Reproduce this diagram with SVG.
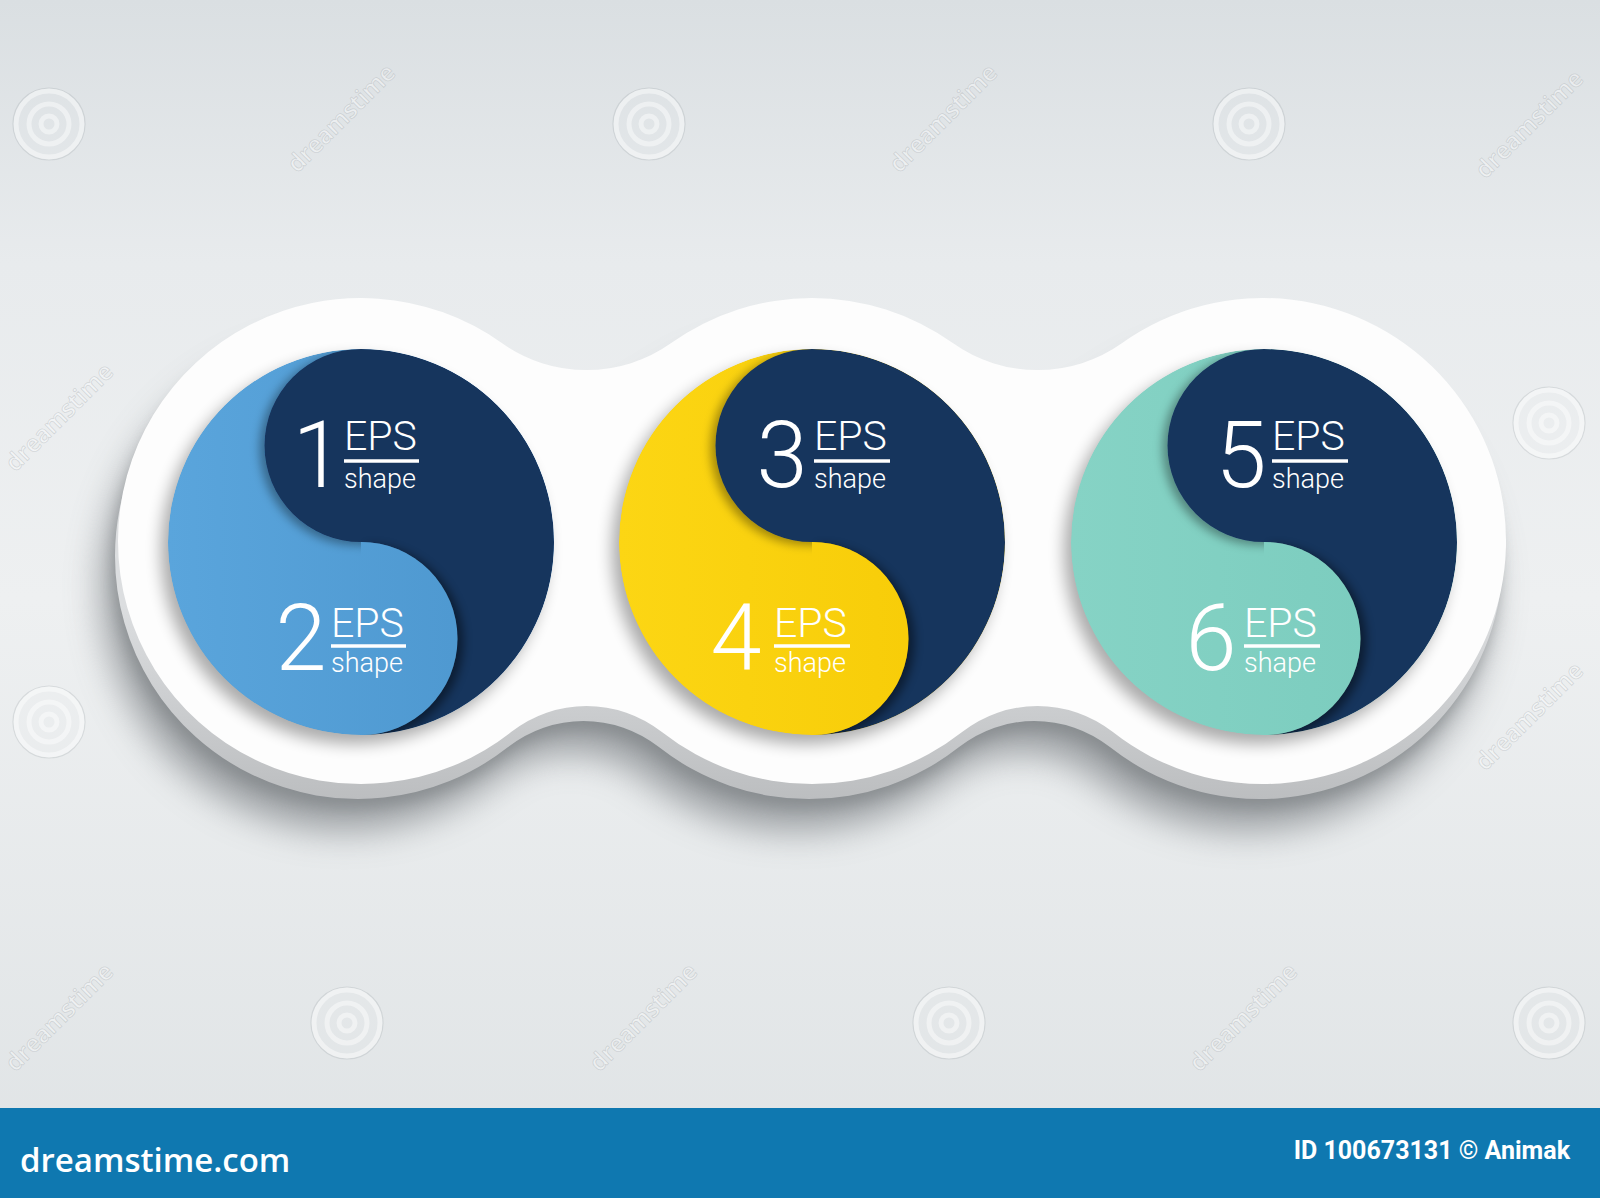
<svg xmlns="http://www.w3.org/2000/svg" xmlns:xlink="http://www.w3.org/1999/xlink" width="1600" height="1198" viewBox="0 0 1600 1198">
<style>
.num{font-family:Roboto,"Liberation Sans",sans-serif;font-weight:300;font-size:92px;fill:#ffffff;text-anchor:middle}
.eps{font-family:Roboto,"Liberation Sans",sans-serif;font-weight:300;font-size:41px;fill:#ffffff}
.shp{font-family:Roboto,"Liberation Sans",sans-serif;font-weight:300;font-size:27px;fill:#ffffff}
.ul{stroke:#ffffff;stroke-width:3.5}
.dark{fill:#18345d}
.wm{font-family:"Open Sans","DejaVu Sans",sans-serif;font-size:24px;font-weight:600;fill:#ffffff;fill-opacity:.4;stroke:#8f969b;stroke-opacity:.3;stroke-width:.8}
.sp{fill:none;stroke:#ffffff;stroke-opacity:.45;stroke-width:5}
.sp2{fill:none;stroke:#8f969b;stroke-opacity:.22;stroke-width:1.2}
</style>
<defs>
<linearGradient id="bg" x1="0" y1="0" x2="0" y2="1">
<stop offset="0" stop-color="#dadfe2"/>
<stop offset="0.22" stop-color="#e8ebed"/>
<stop offset="0.5" stop-color="#eef0f1"/>
<stop offset="1" stop-color="#dfe3e5"/>
</linearGradient>
<linearGradient id="gBlue" gradientUnits="userSpaceOnUse" x1="-193" y1="0" x2="193" y2="0">
<stop offset="0" stop-color="#5aa5dc"/><stop offset="1" stop-color="#4b95cd"/>
</linearGradient>
<linearGradient id="gYel" gradientUnits="userSpaceOnUse" x1="-193" y1="0" x2="193" y2="0">
<stop offset="0" stop-color="#fcd614"/><stop offset="1" stop-color="#f6ca05"/>
</linearGradient>
<linearGradient id="gTeal" gradientUnits="userSpaceOnUse" x1="-193" y1="0" x2="193" y2="0">
<stop offset="0" stop-color="#86d3c5"/><stop offset="1" stop-color="#79cbbd"/>
</linearGradient>
<linearGradient id="gEdge" x1="0" y1="0" x2="0" y2="1">
<stop offset="0.6" stop-color="#dcdee0"/><stop offset="1" stop-color="#bcbec0"/>
</linearGradient>
<filter id="blurBig" x="-20%" y="-30%" width="140%" height="160%"><feGaussianBlur stdDeviation="18"/></filter>
<filter id="blurMid" x="-20%" y="-30%" width="140%" height="160%"><feGaussianBlur stdDeviation="7"/></filter>
<filter id="circSh" x="-30%" y="-30%" width="160%" height="160%"><feGaussianBlur stdDeviation="8"/></filter>
<filter id="blurS" x="-40%" y="-40%" width="180%" height="180%"><feGaussianBlur stdDeviation="5"/></filter>
<filter id="shL" x="-30%" y="-30%" width="160%" height="160%"><feDropShadow dx="-5" dy="3" stdDeviation="5" flood-color="#000" flood-opacity=".35"/></filter>
<clipPath id="cc" clipPathUnits="userSpaceOnUse"><circle cx="0" cy="0" r="193"/></clipPath>
<clipPath id="rh" clipPathUnits="userSpaceOnUse"><rect x="0" y="-10" width="200" height="210"/></clipPath>
<path id="band" d="M118,541 A243,243 0 0 1 501.8,343 A146.1,146.1 0 0 0 671.2,343 A243,243 0 0 1 952.8,343 A146.1,146.1 0 0 0 1122.2,343 A243,243 0 1 1 1112.9,732.1 A122,122 0 0 0 962.1,732.1 A243,243 0 0 1 661.9,732.1 A122,122 0 0 0 511.1,732.1 A243,243 0 0 1 118,541 Z"/>
<path id="darkP" d="M0,-193 A193,193 0 0 1 0,193 A96.5,96.5 0 0 0 0,0 A96.5,96.5 0 0 1 0,-193 Z"/>
<path id="lobeP" d="M0,0 A96.5,96.5 0 0 1 0,193 Z"/>
<g id="lobeShadow" clip-path="url(#rh)">
<use xlink:href="#lobeP" fill="#000" opacity=".45" transform="translate(6,3)" filter="url(#blurS)"/>
</g>
<g id="spiral">
<circle class="sp2" r="36"/><circle class="sp" r="33"/><circle class="sp" r="20"/><circle class="sp" r="8"/>
</g>
</defs>

<rect width="1600" height="1198" fill="url(#bg)"/>

<g id="watermarks">
<use xlink:href="#spiral" x="49" y="124"/><use xlink:href="#spiral" x="649" y="124"/><use xlink:href="#spiral" x="1249" y="124"/>
<use xlink:href="#spiral" x="347" y="1023"/><use xlink:href="#spiral" x="949" y="1023"/><use xlink:href="#spiral" x="1549" y="1023"/>
<use xlink:href="#spiral" x="49" y="722"/><use xlink:href="#spiral" x="1549" y="423"/>
<text class="wm" transform="translate(347,124) rotate(-45)" text-anchor="middle">dreamstime</text>
<text class="wm" transform="translate(949,124) rotate(-45)" text-anchor="middle">dreamstime</text>
<text class="wm" transform="translate(1535,130) rotate(-45)" text-anchor="middle">dreamstime</text>
<text class="wm" transform="translate(65,423) rotate(-45)" text-anchor="middle">dreamstime</text>
<text class="wm" transform="translate(649,1023) rotate(-45)" text-anchor="middle">dreamstime</text>
<text class="wm" transform="translate(65,1023) rotate(-45)" text-anchor="middle">dreamstime</text>
<text class="wm" transform="translate(1249,1023) rotate(-45)" text-anchor="middle">dreamstime</text>
<text class="wm" transform="translate(1535,722) rotate(-45)" text-anchor="middle">dreamstime</text>
</g>

<g id="base">
<use xlink:href="#band" transform="translate(-16,46)" fill="#777c80" opacity=".7" filter="url(#blurBig)"/>
<use xlink:href="#band" transform="translate(-6,24)" fill="#6f7477" opacity=".4" filter="url(#blurMid)"/>
<use xlink:href="#band" transform="translate(-3,15)" fill="url(#gEdge)"/>
<use xlink:href="#band" fill="#fdfdfd"/>
</g>

<g id="connectors"></g>

<g id="circle-1" transform="translate(361,542)">
<circle r="193" fill="#000" opacity=".32" transform="translate(-7,9)" filter="url(#circSh)"/>
<g clip-path="url(#cc)">
<circle r="193" fill="url(#gBlue)"/>
<use xlink:href="#darkP" class="dark" filter="url(#shL)"/>
<use xlink:href="#lobeShadow"/>
<use xlink:href="#lobeP" fill="url(#gBlue)"/>
</g>
<g id="step-1">
<text class="num" x="-43" y="-55">1</text>
<text class="eps" x="-17" y="-92">EPS</text>
<line class="ul" x1="-17" y1="-81" x2="58" y2="-81"/>
<text class="shp" x="-17" y="-54">shape</text>
</g>
<g id="step-2">
<text class="num" x="-60" y="128">2</text>
<text class="eps" x="-30" y="95">EPS</text>
<line class="ul" x1="-30" y1="104" x2="45" y2="104"/>
<text class="shp" x="-30" y="130">shape</text>
</g>
</g>

<g id="circle-2" transform="translate(812,542)">
<circle r="193" fill="#000" opacity=".32" transform="translate(-7,9)" filter="url(#circSh)"/>
<g clip-path="url(#cc)">
<circle r="193" fill="url(#gYel)"/>
<use xlink:href="#darkP" class="dark" filter="url(#shL)"/>
<use xlink:href="#lobeShadow"/>
<use xlink:href="#lobeP" fill="url(#gYel)"/>
</g>
<g id="step-3">
<text class="num" x="-30" y="-55">3</text>
<text class="eps" x="2" y="-92">EPS</text>
<line class="ul" x1="2" y1="-81" x2="78" y2="-81"/>
<text class="shp" x="2" y="-54">shape</text>
</g>
<g id="step-4">
<text class="num" x="-76" y="128">4</text>
<text class="eps" x="-38" y="95">EPS</text>
<line class="ul" x1="-38" y1="104" x2="38" y2="104"/>
<text class="shp" x="-38" y="130">shape</text>
</g>
</g>

<g id="circle-3" transform="translate(1264,542)">
<circle r="193" fill="#000" opacity=".32" transform="translate(-7,9)" filter="url(#circSh)"/>
<g clip-path="url(#cc)">
<circle r="193" fill="url(#gTeal)"/>
<use xlink:href="#darkP" class="dark" filter="url(#shL)"/>
<use xlink:href="#lobeShadow"/>
<use xlink:href="#lobeP" fill="url(#gTeal)"/>
</g>
<g id="step-5">
<text class="num" x="-23" y="-55">5</text>
<text class="eps" x="8" y="-92">EPS</text>
<line class="ul" x1="8" y1="-81" x2="84" y2="-81"/>
<text class="shp" x="8" y="-54">shape</text>
</g>
<g id="step-6">
<text class="num" x="-53" y="128">6</text>
<text class="eps" x="-20" y="95">EPS</text>
<line class="ul" x1="-20" y1="104" x2="56" y2="104"/>
<text class="shp" x="-20" y="130">shape</text>
</g>
</g>

<g id="footer">
<rect x="0" y="1108" width="1600" height="90" fill="#0f78b0"/>
<text x="20" y="1172" font-family="'Open Sans','DejaVu Sans',sans-serif" font-size="33" font-weight="600" fill="#ffffff">dreamstime.com</text>
<text x="1570" y="1159" text-anchor="end" font-family="Roboto,'Liberation Sans',sans-serif" font-size="25" font-weight="700" fill="#ffffff">ID 100673131 © Animak</text>
</g>
</svg>
